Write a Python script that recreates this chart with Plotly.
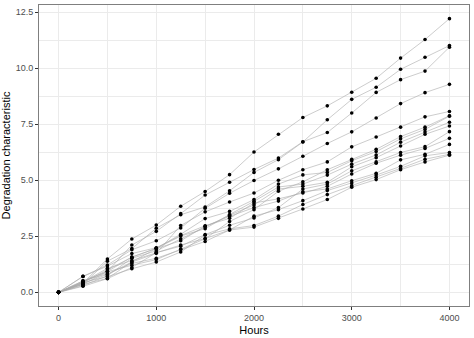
import plotly.graph_objects as go

hours = [0, 250, 500, 750, 1000, 1250, 1500, 1750, 2000, 2250, 2500, 2750, 3000, 3250, 3500, 3750, 4000]

unit_01 = [0, 0.47, 0.93, 2.11, 2.72, 3.51, 4.34, 4.91, 5.48, 5.99, 6.72, 7.13, 8.00, 8.92, 9.49, 9.87, 10.94]
unit_02 = [0, 0.71, 1.22, 1.90, 2.30, 2.87, 3.75, 4.42, 4.99, 5.51, 6.07, 6.64, 7.16, 7.78, 8.42, 8.91, 9.28]
unit_03 = [0, 0.71, 1.17, 1.73, 1.99, 2.53, 2.97, 3.30, 3.99, 4.17, 4.43, 4.73, 5.28, 5.76, 6.12, 6.42, 6.87]
unit_04 = [0, 0.36, 0.62, 1.36, 1.95, 2.30, 2.95, 3.39, 3.78, 4.07, 4.49, 4.61, 4.98, 5.31, 5.91, 6.16, 6.60]
unit_05 = [0, 0.27, 0.61, 1.11, 1.77, 2.06, 2.58, 2.99, 3.32, 3.78, 4.61, 4.83, 5.42, 5.82, 6.24, 6.50, 7.17]
unit_06 = [0, 0.36, 1.39, 1.95, 2.86, 3.46, 3.81, 4.53, 5.35, 5.92, 6.71, 7.70, 8.61, 9.15, 9.95, 10.49, 11.01]
unit_07 = [0, 0.36, 0.92, 1.21, 1.46, 1.93, 2.39, 3.16, 3.69, 4.51, 4.93, 5.47, 5.94, 6.38, 6.95, 7.37, 7.88]
unit_08 = [0, 0.46, 1.07, 1.42, 1.77, 2.11, 2.40, 2.78, 2.91, 3.30, 3.72, 4.14, 4.69, 5.03, 5.47, 5.82, 6.12]
unit_09 = [0, 0.51, 0.93, 1.57, 1.96, 2.59, 3.29, 3.61, 4.14, 4.83, 5.24, 5.35, 5.87, 6.28, 6.85, 7.27, 7.86]
unit_10 = [0, 0.41, 1.49, 2.38, 3.00, 3.84, 4.50, 5.25, 6.26, 7.05, 7.80, 8.32, 8.93, 9.55, 10.45, 11.28, 12.21]
unit_11 = [0, 0.44, 1.00, 1.57, 1.96, 2.51, 2.84, 3.47, 4.06, 4.70, 4.83, 5.23, 5.72, 6.13, 6.70, 7.15, 7.59]
unit_12 = [0, 0.39, 0.80, 1.35, 1.74, 2.98, 3.59, 4.03, 4.43, 5.00, 5.47, 5.82, 6.49, 6.93, 7.37, 7.83, 8.07]
unit_13 = [0, 0.30, 0.74, 1.52, 1.85, 2.39, 2.91, 3.44, 3.90, 4.61, 4.73, 4.91, 5.60, 6.01, 6.53, 7.05, 7.42]
unit_14 = [0, 0.44, 0.70, 1.05, 1.35, 1.80, 2.55, 2.83, 2.98, 3.40, 3.92, 4.36, 4.76, 5.13, 5.53, 5.94, 6.16]
unit_15 = [0, 0.51, 0.83, 1.29, 1.52, 1.91, 2.27, 2.78, 3.40, 3.69, 4.09, 4.54, 4.88, 5.23, 5.62, 6.09, 6.24]

units = [unit_01, unit_02, unit_03, unit_04, unit_05, unit_06, unit_07, unit_08,
         unit_09, unit_10, unit_11, unit_12, unit_13, unit_14, unit_15]

x_ticks = [0, 1000, 2000, 3000, 4000]
y_ticks = [0.0, 2.5, 5.0, 7.5, 10.0, 12.5]
y_labels = ["0.0", "2.5", "5.0", "7.5", "10.0", "12.5"]

fig = go.Figure()
for u in units:
    fig.add_trace(go.Scatter(x=hours, y=u, mode="lines",
                             line=dict(color="#aaaaaa", width=0.6),
                             showlegend=False, hoverinfo="skip"))
for u in units:
    fig.add_trace(go.Scatter(x=hours, y=u, mode="markers",
                             marker=dict(color="black", size=3.6),
                             showlegend=False))

grid = "#ebebeb"
border = "#7f7f7f"
fig.update_layout(
    width=474, height=338,
    margin=dict(l=38, r=4, t=5, b=30),
    plot_bgcolor="white", paper_bgcolor="white",
    font=dict(family="Liberation Sans, Arial, sans-serif"),
)
fig.update_xaxes(
    range=[-200, 4200], tickvals=x_ticks, ticktext=[str(v) for v in x_ticks],
    showgrid=True, gridcolor=grid, gridwidth=1,
    minor=dict(tickvals=[500, 1500, 2500, 3500], showgrid=True, gridcolor=grid, gridwidth=0.5),
    ticks="outside", ticklen=3, tickcolor="#333333",
    tickfont=dict(size=9, color="#4d4d4d"),
    showline=True, linecolor=border, linewidth=1, mirror=True, zeroline=False,
    title=dict(text="Hours", font=dict(size=11, color="black"), standoff=4),
)
fig.update_yaxes(
    range=[-0.61, 12.82], tickvals=y_ticks, ticktext=y_labels,
    showgrid=True, gridcolor=grid, gridwidth=1,
    minor=dict(tickvals=[1.25, 3.75, 6.25, 8.75, 11.25], showgrid=True, gridcolor=grid, gridwidth=0.5),
    ticks="outside", ticklen=3, tickcolor="#333333",
    tickfont=dict(size=9, color="#4d4d4d"),
    showline=True, linecolor=border, linewidth=1, mirror=True, zeroline=False,
    title=dict(text="Degradation characteristic", font=dict(size=11, color="black"), standoff=4),
)

fig.write_html("out.html")
